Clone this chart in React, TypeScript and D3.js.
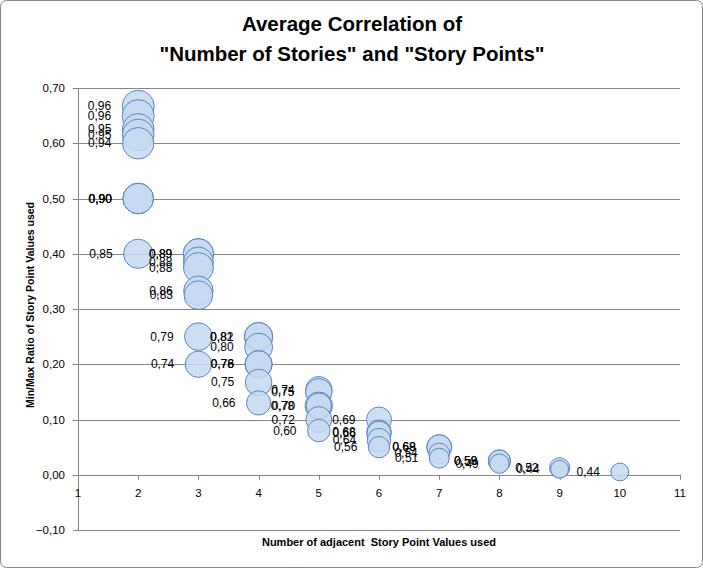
import React from "react";
import * as d3 from "d3";

// Number of adjacent story point values used (x)
const windowSizes = [
  2, 2, 2, 2, 2, 2, 2, 2, 2,
  3, 3, 3, 3, 3, 3, 3, 3,
  4, 4, 4, 4, 4, 4, 4,
  5, 5, 5, 5, 5, 5,
  6, 6, 6, 6, 6,
  7, 7, 7, 7,
  8, 8, 8,
  9, 9,
  10,
];
// Min/Max ratio of story point values used (y)
const minMaxRatios = [
  0.667, 0.65, 0.625, 0.615, 0.6, 0.5, 0.5, 0.5, 0.4,
  0.4, 0.4, 0.385, 0.375, 0.333, 0.325, 0.25, 0.2,
  0.25, 0.25, 0.231, 0.2, 0.2, 0.167, 0.13,
  0.154, 0.15, 0.125, 0.125, 0.1, 0.08,
  0.1, 0.077, 0.075, 0.0625, 0.05,
  0.05, 0.05, 0.0385, 0.03,
  0.025, 0.025, 0.02,
  0.0125, 0.01,
  0.005,
];
// Average correlation (bubble size and label)
const correlations = [
  0.96, 0.96, 0.95, 0.95, 0.94, 0.9, 0.9, 0.9, 0.85,
  0.89, 0.89, 0.88, 0.88, 0.86, 0.83, 0.79, 0.74,
  0.82, 0.81, 0.8, 0.78, 0.76, 0.75, 0.66,
  0.74, 0.75, 0.78, 0.7, 0.72, 0.6,
  0.69, 0.68, 0.66, 0.64, 0.56,
  0.69, 0.68, 0.54, 0.51,
  0.59, 0.58, 0.49,
  0.52, 0.44,
  0.44,
];

const xTicks = [1, 2, 3, 4, 5, 6, 7, 8, 9, 10, 11];
const yTicks = [-0.1, 0, 0.1, 0.2, 0.3, 0.4, 0.5, 0.6, 0.7];

const titleLines = ["Average Correlation of", "\"Number of Stories\" and \"Story Points\""];
const xTitle = "Number of adjacent  Story Point Values used";
const yTitle = "Min/Max Ratio of Story Point Values used";

const W = 703;
const H = 568;
const FONT = "'Liberation Sans', Arial, sans-serif";

export default function App() {
  const x = d3.scaleLinear().domain([1, 11]).range([78, 680]);
  const y = d3.scaleLinear().domain([-0.1, 0.7]).range([530, 88]);
  const r = d3.scalePow().exponent(0.75).domain([0, 0.96]).range([0, 16]);
  const fmt = (v: number) => d3.format(".2f")(v).replace(".", ",");

  const points = windowSizes.map((n, i) => ({
    n,
    ratio: minMaxRatios[i],
    corr: correlations[i],
  }));
  const grid = "#868686";

  return (
    <svg
      width={W}
      height={H}
      style={{ position: "absolute", left: 0, top: 0, background: "#fff" }}
      fontFamily={FONT}
    >
      <rect x={0.5} y={0.5} width={W - 1} height={H - 1} rx={6} fill="#fff" stroke={grid} />
      {titleLines.map((t, i) => (
        <text
          key={i}
          x={352}
          y={31 + i * 30}
          textAnchor="middle"
          fontSize={20.5}
          fontWeight="bold"
          fill="#000"
        >
          {t}
        </text>
      ))}
      {/* gridlines */}
      {yTicks.map((t) => (
        <line
          key={"g" + t}
          x1={x(1)}
          x2={x(11)}
          y1={Math.round(y(t)) + 0.5}
          y2={Math.round(y(t)) + 0.5}
          stroke={grid}
        />
      ))}
      {/* y axis */}
      <line x1={x(1) + 0.5} x2={x(1) + 0.5} y1={y(0.7)} y2={y(-0.1)} stroke={grid} />
      {yTicks.map((t) => (
        <g key={"yt" + t}>
          <line
            x1={x(1) - 5}
            x2={x(1)}
            y1={Math.round(y(t)) + 0.5}
            y2={Math.round(y(t)) + 0.5}
            stroke={grid}
          />
          <text x={65} y={y(t) + 4} textAnchor="end" fontSize={11.5} fill="#000">
            {fmt(t)}
          </text>
        </g>
      ))}
      {/* x axis ticks */}
      {xTicks.map((t) => (
        <g key={"xt" + t}>
          <line
            x1={Math.round(x(t)) + 0.5}
            x2={Math.round(x(t)) + 0.5}
            y1={y(0)}
            y2={y(0) + 5}
            stroke={grid}
          />
          <text x={x(t)} y={497} textAnchor="middle" fontSize={11.5} fill="#000">
            {t}
          </text>
        </g>
      ))}
      {/* bubbles */}
      {points.map((p, i) => (
        <circle
          key={"b" + i}
          cx={x(p.n)}
          cy={y(p.ratio)}
          r={r(p.corr)}
          fill="#c6d9f1"
          fillOpacity={0.85}
          stroke="#5a86c0"
          strokeWidth={1}
        />
      ))}
      {/* labels */}
      {points.map((p, i) => (
        <text
          key={"l" + i}
          x={x(p.n) - r(p.corr) - 11}
          y={y(p.ratio) + 4}
          textAnchor="end"
          fontSize={12}
          fill="#000"
        >
          {fmt(p.corr)}
        </text>
      ))}
      {/* axis titles */}
      <text
        x={379}
        y={546}
        textAnchor="middle"
        fontSize={11}
        fontWeight="bold"
        fill="#000"
        style={{ whiteSpace: "pre" }}
      >
        {xTitle}
      </text>
      <text
        transform={`translate(34,305) rotate(-90)`}
        textAnchor="middle"
        fontSize={10.5}
        fontWeight="bold"
        fill="#000"
      >
        {yTitle}
      </text>
    </svg>
  );
}
